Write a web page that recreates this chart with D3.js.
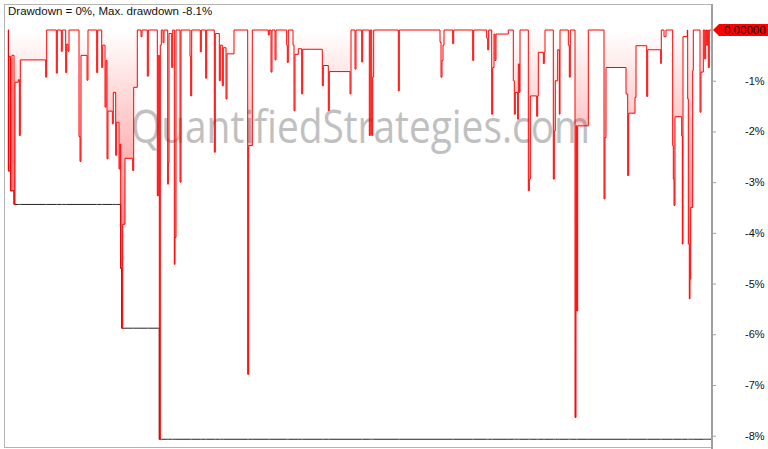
<!DOCTYPE html>
<html>
<head>
<meta charset="utf-8">
<script src="https://cdn.jsdelivr.net/npm/d3@7"></script>
<style>
  body { margin: 0; background: #fff; }
  svg { display: block; }
</style>
</head>
<body>
<script>
const width = 768
const height = 449

// bar number of each change in the drawdown (bars 0..704)
const bars = [
    0, 0.4, 1, 2.5, 4, 6, 7, 10.3, 11.3, 12.3,
    37.7, 38.7, 48.3, 49.3, 53.3, 54.3, 57.7, 58.7, 60, 61,
    71, 72, 73, 79, 80, 88.7, 89.7, 93.7, 94.7, 97, 98, 99, 100, 104.3, 105.3, 107.7, 108.7, 111, 112, 112.7,
    113.7, 114.7, 117, 124.7, 125.7, 129.3, 133, 134, 139.3, 140.3, 149.3, 150.3, 151.3, 152.3, 153.3,
    155, 156, 159.7, 160.3, 161, 163.7, 164.7, 166.3, 167, 168, 172, 173, 182, 182.7, 183.7, 192.3, 193.3,
    197.7, 198.7, 206.3, 207.3, 211.3, 212.3, 214.3, 215.3, 218, 219, 226,
    239.7, 240.7, 244.3, 260.3, 261.3, 263, 264, 267, 268, 278.7, 279.3, 280.3, 285, 286, 287, 290.3,
    293.7, 294.7, 314.3, 315.3, 320.3, 321.3, 342, 343, 347, 348, 353.7, 354.7, 361.3, 362.3, 363.7, 364.7, 365.7,
    390.3, 391.3, 432, 433, 434, 435, 436, 444.7, 445.7, 464.7, 465.7, 478.7, 479.7, 480.7, 483.7, 484.7, 486, 487, 488, 500.3,
    505.3, 506.3, 507.3, 509.7, 510.3, 511.3, 512, 520.3, 521.3, 522.3, 528.7, 529.7, 530.3, 535.3, 536.3, 537,
    545.3, 546.3, 547.3, 549.7, 551.3, 552, 560.3, 561.3, 562.3, 567, 568, 568.7, 569.7, 580.3,
    596, 597, 598, 618, 619.7, 620.7, 627, 628, 638.7, 639.7, 652.7, 653.3, 656, 658, 664.7, 665.3, 666, 667, 673.7, 674.3,
    675, 679.3, 679.7, 680.3, 681.3, 682, 682.7, 684.7, 685.3, 692, 693, 695.3, 696.7, 697.7, 698.7, 699.7, 700.3, 701.3, 704
]

// drawdown in % from that bar on
const drawdown = [
    0, -2.78, -0.52, -3.17, -0.5, -3.44, -1.03, -0.98, -2.08, -0.59,
    -0.93, 0, -0.85, 0, -0.42, 0, -0.84, -0.28, -0.42, 0,
    -2.1, -2.59, -0.5, -0.99, 0, -0.84, 0, -0.74, -0.3, -1.52, -0.6, -2.54, -1.6, -1.85, -1.23, -2.47, -1.82, -2.74, -2.25, -4.7,
    -5.88, -3.83, -2.53, -2.77, -1.13, 0, -0.13, 0, -0.91, 0, -3.27, -0.5, -8.07, -0.3, 0,
    -0.25, 0, -3.04, -2.61, -0.07, -0.74, 0, -4.62, -4.09, 0, -3.0, 0, -0.52, -1.3, 0, -0.43, 0,
    -0.95, 0, -2.41, -0.07, -1.0, -0.3, -1.1, -0.35, -1.36, -0.47, 0,
    -6.79, -2.28, 0, -0.1, 0, -0.83, 0, -0.59, 0, -0.3, -0.64, 0, -0.3, -1.59, -0.48, -0.37,
    -1.26, -0.38, -1.1, -0.7, -1.59, -0.82, -1.26, 0, -0.77, 0, -0.63, 0, -2.08, 0, -2.08, -0.93, 0,
    -1.2, 0, -0.24, -0.93, -0.6, -0.3, 0, -0.27, 0, -0.6, 0, -0.16, -0.39, 0, -1.66, -0.74, -0.08, -0.6, -0.08, 0,
    -1.0, -1.66, -1.23, -1.76, -0.67, -1.23, 0, -3.17, -2.94, -1.3, -1.7, -1.3, -0.44, -0.66, -0.44, 0,
    -2.94, -1.99, -1.0, -0.39, -1.66, 0, -0.3, -0.93, 0, -7.64, -1.89, -5.54, -1.89, 0,
    -3.33, -2.12, -0.74, -1.26, -2.87, -1.64, -1.33, -0.31, -1.31, -0.39, -0.66, 0, -0.13, 0, -2.28, -2.94, -3.46, -1.71, -2.09, -4.22,
    -0.13, 0, -1.36, -4.22, -5.3, -4.91, -3.5, -0.8, 0, -1.62, -0.83, 0, -0.57, 0, -0.3, 0, -0.74, 0, 0
]

const yTicks = [-1, -2, -3, -4, -5, -6, -7, -8]
const watermark = "QuantifiedStrategies.com"

let data = bars.map(function(b, i){
    return {bar: b, dd: drawdown[i]}
})

// running maximum drawdown
let worst = 0
data.forEach(function(d){
    worst = Math.min(worst, d.dd)
    d.max = worst
})

let svg = d3.select("body")
    .append("svg")
    .attr("width", width)
    .attr("height", height)

let x = d3.scaleLinear().domain([0, 704]).range([8, 712])
let y = d3.scaleLinear().domain([0, -8]).range([30, 435.7])

let defs = svg.append("defs")

defs.append("clipPath")
    .attr("id", "plot")
    .append("rect")
    .attr("x", 5)
    .attr("y", 5)
    .attr("width", 706)
    .attr("height", 442)

let grad = defs.append("linearGradient")
    .attr("id", "ddFill")
    .attr("gradientUnits", "userSpaceOnUse")
    .attr("x1", 0).attr("x2", 0)
    .attr("y1", y(0)).attr("y2", y(-8))
grad.append("stop").attr("offset", 0).attr("stop-color", "#ff0000").attr("stop-opacity", 0)
grad.append("stop").attr("offset", 1).attr("stop-color", "#ff0000").attr("stop-opacity", 0.95)

// watermark sits under the curves
svg.append("text")
    .attr("x", 131)
    .attr("y", 143)
    .attr("textLength", 459)
    .attr("lengthAdjust", "spacingAndGlyphs")
    .style("font-family", "'Open Sans', sans-serif")
    .style("font-size", "45px")
    .style("fill", "#c0c0c0")
    .text(watermark)

let plot = svg.append("g").attr("clip-path", "url(#plot)")

plot.append("path")
    .datum(data)
    .attr("d", d3.area()
        .x(d => x(d.bar))
        .y0(y(0))
        .y1(d => y(d.dd))
        .curve(d3.curveStepAfter))
    .style("fill", "url(#ddFill)")

plot.append("path")
    .datum(data)
    .attr("d", d3.line()
        .x(d => x(d.bar))
        .y(d => y(d.max))
        .curve(d3.curveStepAfter))
    .style("fill", "none")
    .style("stroke", "#222")
    .style("stroke-width", "1px")

plot.append("path")
    .datum(data)
    .attr("d", d3.line()
        .x(d => x(d.bar))
        .y(d => y(d.dd))
        .curve(d3.curveStepAfter))
    .style("fill", "none")
    .style("stroke", "#ff0000")
    .style("stroke-width", "1px")

// frame
const frameColor = "#b4b4b4"
svg.append("line").attr("x1", 4.5).attr("x2", 4.5).attr("y1", 4).attr("y2", 448)
    .style("stroke", frameColor)
svg.append("line").attr("x1", 4).attr("x2", 712).attr("y1", 4.5).attr("y2", 4.5)
    .style("stroke", frameColor)
svg.append("line").attr("x1", 4).attr("x2", 712).attr("y1", 447.5).attr("y2", 447.5)
    .style("stroke", frameColor)

let axis = svg.append("g")
    .attr("transform", "translate(712,0)")
    .call(d3.axisRight(y)
        .tickValues(yTicks)
        .tickSize(4)
        .tickPadding(29)
        .tickFormat(d => d + "%"))
axis.select(".domain").remove()
axis.selectAll(".tick line").style("stroke", "#a0a0a0")
axis.selectAll(".tick text")
    .style("font-family", "'Liberation Sans', Arial, sans-serif")
    .style("font-size", "11px")
    .style("fill", "#111")

svg.append("line").attr("x1", 712).attr("x2", 712).attr("y1", 4).attr("y2", 449)
    .style("stroke", "#a0a0a0")
    .style("stroke-width", "2px")

// last value marker
let last = data[data.length - 1]
let ly = y(last.dd)
svg.append("path")
    .attr("d", `M713,${ly} L719,${ly-6} L768,${ly-6} L768,${ly+6} L719,${ly+6} Z`)
    .style("fill", "#ff0000")
svg.append("text")
    .attr("x", 724)
    .attr("y", ly + 4)
    .style("font-family", "'Liberation Sans', Arial, sans-serif")
    .style("font-size", "11.5px")
    .style("fill", "#111")
    .text(last.dd.toFixed(5))

svg.append("text")
    .attr("x", 8)
    .attr("y", 15)
    .style("font-family", "'Liberation Sans', Arial, sans-serif")
    .style("font-size", "11.5px")
    .style("fill", "#111")
    .text("Drawdown = " + last.dd + "%, Max. drawdown " + d3.min(drawdown).toFixed(1) + "%")
</script>
</body>
</html>
